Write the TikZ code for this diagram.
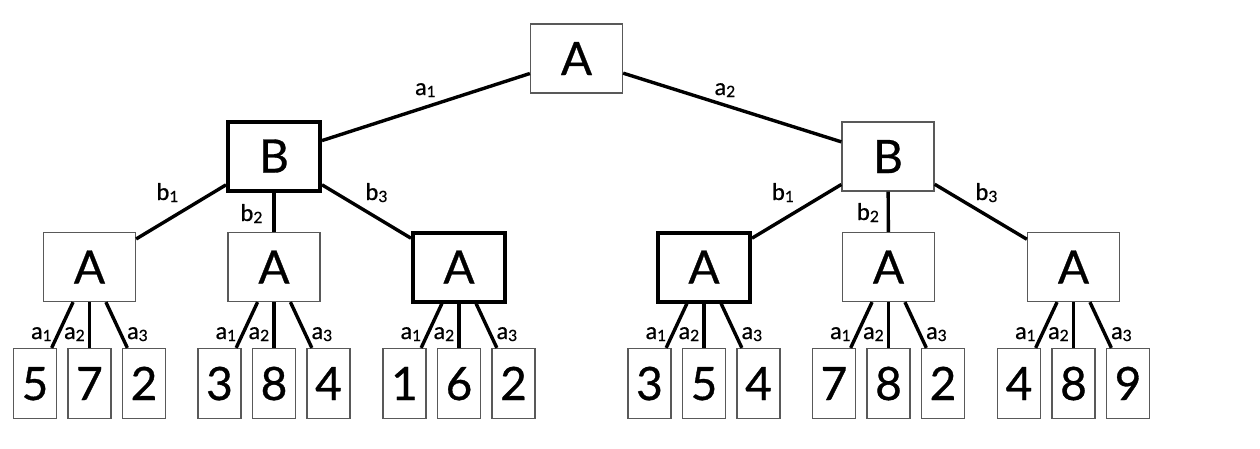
\documentclass[tikz,border=0pt]{standalone}
\usepackage{fontspec}
\setmainfont{Lato}
\newfontfamily\boxfont{Lato}[FakeBold=0.7]
\newcommand{\labtxt}[2]{#1\raisebox{-2pt}{\fontsize{15.5}{15.5}\selectfont #2}}
\tikzset{
  box/.style={draw=black!65, line width=1.3pt, inner sep=0pt, minimum width=92pt, minimum height=69pt, text height=33pt, text depth=0pt, font=\boxfont\fontsize{46}{46}\selectfont},
  boldbox/.style={box, draw=black, line width=4pt},
  leaf/.style={draw=black!65, line width=1.3pt, inner sep=0pt, minimum width=43pt, minimum height=70pt, text height=33pt, text depth=0pt, font=\boxfont\fontsize{46}{46}\selectfont},
  edge/.style={line width=3.4pt},
  lab/.style={anchor=base, inner sep=0pt, font=\boxfont\fontsize{23}{23}\selectfont},
}
\begin{document}
\begin{tikzpicture}[x=1pt,y=-1pt]
\useasboundingbox (0,0) rectangle (1260,448);
% internal nodes
\node[box] (r) at (576.5,58.5) {A};
\node[boldbox] (bl) at (274,156) {B};
\node[box] (br) at (888,156.5) {B};
\node[box] (p1) at (89.5,267) {A};
\node[box] (p2) at (274,267) {A};
\node[boldbox] (p3) at (459,267) {A};
\node[boldbox] (p4) at (704,267) {A};
\node[box] (p5) at (888.5,267) {A};
\node[box] (p6) at (1073.5,267) {A};
% edges top
\draw[edge] (r) -- (bl);
\draw[edge] (r) -- (br);
\draw[edge] (bl) -- (p1);
\draw[edge] (bl) -- (p2);
\draw[edge] (bl) -- (p3);
\draw[edge] (br) -- (p4);
\draw[edge] (br) -- (p5);
\draw[edge] (br) -- (p6);
% labels top
\node[lab] (la1) at (425.5,95) {\labtxt{a}{1}};
\node[lab] (la2) at (725,95) {\labtxt{a}{2}};
\node[lab] (lb1) at (167.5,200) {\labtxt{b}{1}};
\node[lab] (lb2) at (251.5,221) {\labtxt{b}{2}};
\node[lab] (lb3) at (376.5,200) {\labtxt{b}{3}};
\node[lab] (rb1) at (783,200) {\labtxt{b}{1}};
\node[lab] (rb2) at (868,220) {\labtxt{b}{2}};
\node[lab] (rb3) at (986.5,200) {\labtxt{b}{3}};
% leaves
\foreach \i/\px/\u/\v/\w in {1/89.5/5/7/2, 2/274/3/8/4, 3/459/1/6/2, 4/704/3/5/4, 5/888.5/7/8/2, 6/1073.5/4/8/9}{
  \node[leaf] (l\i a) at (\px-54.5,383.5) {\u};
  \node[leaf] (l\i b) at (\px,383.5) {\v};
  \node[leaf] (l\i c) at (\px+54.5,383.5) {\w};
  \draw[edge] (p\i) -- (l\i a);
  \draw[edge] (p\i) -- (l\i b);
  \draw[edge] (p\i) -- (l\i c);
  \node[lab] (m\i a) at (\px-48,339) {\labtxt{a}{1}};
  \node[lab] (m\i b) at (\px-15,339) {\labtxt{a}{2}};
  \node[lab] (m\i c) at (\px+48,339) {\labtxt{a}{3}};
}
\end{tikzpicture}
\end{document}
